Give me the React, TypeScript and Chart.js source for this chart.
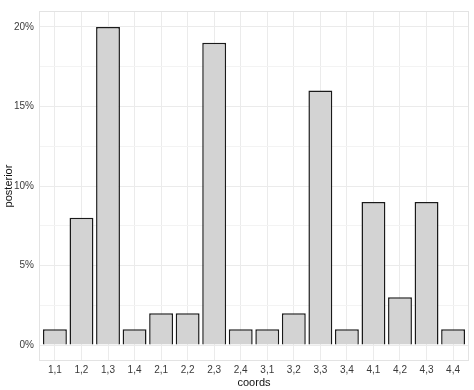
import React, { useEffect, useRef } from "react";
import { Chart, registerables } from "chart.js";

Chart.register(...registerables);

const categories = ["1,1","1,2","1,3","1,4","2,1","2,2","2,3","2,4","3,1","3,2","3,3","3,4","4,1","4,2","4,3","4,4"];
const posterior = [1, 8, 20, 1, 2, 2, 19, 1, 1, 2, 16, 1, 9, 3, 9, 1];
const yTicks = [0, 2.5, 5, 7.5, 10, 12.5, 15, 17.5, 20];

const borderPlugin = {
  id: "panelBorder",
  afterDraw(chart: any) {
    const { ctx, chartArea } = chart;
    ctx.save();
    ctx.strokeStyle = "#e3e3e3";
    ctx.lineWidth = 1;
    ctx.strokeRect(Math.round(chartArea.left) + 0.5, Math.round(chartArea.top) + 0.5,
      Math.round(chartArea.right - chartArea.left) - 1, Math.round(chartArea.bottom - chartArea.top) - 1);
    ctx.restore();
  },
};

export default function App() {
  const ref = useRef<HTMLCanvasElement>(null);
  useEffect(() => {
    document.body.style.margin = "0";
    const chart = new Chart(ref.current!, {
      type: "bar",
      data: {
        datasets: [
          {
            data: posterior.map((v, i) => ({ x: i, y: v })),
            backgroundColor: "#d3d3d3",
            borderColor: "#1a1a1a",
            borderWidth: 1.5,
            barPercentage: 0.9,
            categoryPercentage: 1,
          },
        ],
      },
      options: {
        animation: false,
        responsive: false,
        layout: { padding: { left: 2, right: 5, top: 4, bottom: 0 } },
        plugins: { legend: { display: false }, tooltip: { enabled: false } },
        scales: {
          x: {
            type: "linear",
            offset: false,
            min: -0.6,
            max: 15.6,
            afterBuildTicks: (s: any) => {
              s.ticks = categories.map((_, i) => ({ value: i }));
            },
            afterFit: (s: any) => {
              s.height = 29;
            },
            ticks: {
              callback: (v: any) => categories[v as number] ?? "",
              color: "#3a3a3a",
              font: { family: "Liberation Sans", size: 10 },
              padding: 3,
              maxRotation: 0,
              autoSkip: false,
            },
            grid: { color: "#ebebeb", lineWidth: 1, drawTicks: false, offset: false },
            border: { display: false },
            title: {
              display: true,
              text: "coords",
              color: "#111111",
              font: { family: "Liberation Sans", size: 11 },
              padding: { top: 0, bottom: 0 },
            },
          },
          y: {
            type: "linear",
            min: -1,
            max: 21,
            afterBuildTicks: (s: any) => {
              s.ticks = yTicks.map((v) => ({ value: v }));
            },
            afterFit: (s: any) => {
              s.width = 37;
            },
            ticks: {
              callback: (v: any) => (Number(v) % 5 === 0 ? `${v}%` : ""),
              color: "#3a3a3a",
              font: { family: "Liberation Sans", size: 10 },
              padding: 5,
            },
            grid: {
              color: (c: any) => (c.tick && c.tick.value % 5 === 0 ? "#ebebeb" : "#f3f3f3"),
              lineWidth: 1,
              drawTicks: false,
            },
            border: { display: false },
            title: {
              display: true,
              text: "posterior",
              color: "#111111",
              font: { family: "Liberation Sans", size: 11 },
              padding: { top: 0, bottom: 0 },
            },
          },
        },
      },
      plugins: [borderPlugin],
    });
    return () => chart.destroy();
  }, []);
  return (
    <div style={{ width: 474, height: 390 }}>
      <canvas ref={ref} width={474} height={390} />
    </div>
  );
}
